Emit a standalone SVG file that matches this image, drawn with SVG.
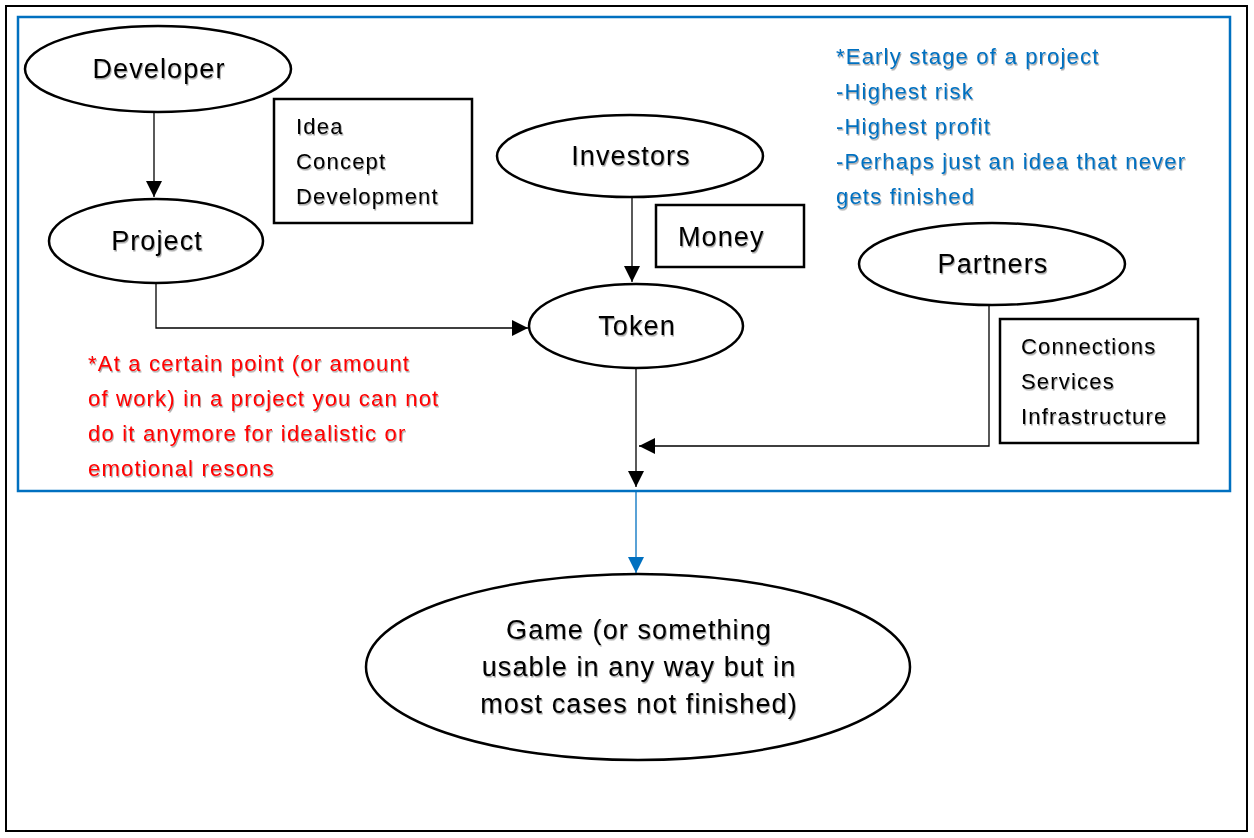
<svg xmlns="http://www.w3.org/2000/svg" width="1254" height="838" viewBox="0 0 1254 838">
<defs>
<filter id="sh" x="-5%" y="-20%" width="110%" height="140%">
<feDropShadow dx="1" dy="1.5" stdDeviation="0.6" flood-color="#000" flood-opacity="0.35"/>
</filter>
<marker id="ah" viewBox="0 0 10 10" refX="10" refY="5" markerWidth="16" markerHeight="16" markerUnits="userSpaceOnUse" orient="auto">
<path d="M0,0 L10,5 L0,10 Z" fill="#000"/>
</marker>
<marker id="ahb" viewBox="0 0 10 10" refX="10" refY="5" markerWidth="16" markerHeight="16" markerUnits="userSpaceOnUse" orient="auto">
<path d="M0,0 L10,5 L0,10 Z" fill="#0070C0"/>
</marker>
</defs>
<style>
text{font-family:"Liberation Sans",Arial,sans-serif;filter:url(#sh)}
.n{fill:#fff;stroke:#000;stroke-width:2.5}
.b{fill:#fff;stroke:#000;stroke-width:2.5}
.big{font-size:27px;fill:#000;text-anchor:middle;letter-spacing:1.1px}
.sm{font-size:22px;fill:#000;letter-spacing:1.2px}
.blue{font-size:22px;fill:#0070C0;letter-spacing:1.2px}
.red{font-size:22px;fill:#FF0000;letter-spacing:1.2px}
.c{fill:none;stroke:#000;stroke-width:1.3}
</style>
<rect x="6" y="6" width="1241" height="825" fill="#fff" stroke="#000" stroke-width="2"/>
<rect x="18" y="17" width="1212" height="474" fill="none" stroke="#0070C0" stroke-width="2.5"/>
<g id="connectors">
<line class="c" x1="154" y1="113" x2="154" y2="197" marker-end="url(#ah)"/>
<line class="c" x1="632" y1="198" x2="632" y2="282" marker-end="url(#ah)"/>
<polyline class="c" points="156,284 156,328 528,328" marker-end="url(#ah)"/>
<polyline class="c" points="989,306 989,446 639,446" marker-end="url(#ah)"/>
<line class="c" x1="636" y1="369" x2="636" y2="487" marker-end="url(#ah)"/>
<line x1="636" y1="491" x2="636" y2="573" stroke="#0070C0" stroke-width="1.3" marker-end="url(#ahb)"/>
</g>
<g id="developer"><ellipse class="n" cx="158" cy="69" rx="133" ry="43"/><text class="big" x="159" y="78">Developer</text></g>
<g id="project"><ellipse class="n" cx="156" cy="241" rx="107" ry="42"/><text class="big" x="157" y="250">Project</text></g>
<g id="investors"><ellipse class="n" cx="630" cy="156" rx="133" ry="41"/><text class="big" x="631" y="165">Investors</text></g>
<g id="token"><ellipse class="n" cx="636" cy="326" rx="107" ry="42"/><text class="big" x="637" y="335">Token</text></g>
<g id="partners"><ellipse class="n" cx="992" cy="264" rx="133" ry="41"/><text class="big" x="993" y="273">Partners</text></g>
<g id="game"><ellipse class="n" cx="638" cy="667" rx="272" ry="93"/>
<text class="big" x="639" y="639">Game (or something</text>
<text class="big" x="639" y="676">usable in any way but in</text>
<text class="big" x="639" y="713">most cases not finished)</text></g>
<g id="idea-box"><rect class="b" x="274" y="99" width="198" height="124"/>
<text class="sm" x="296" y="134">Idea</text>
<text class="sm" x="296" y="169">Concept</text>
<text class="sm" x="296" y="204">Development</text></g>
<g id="money-box"><rect class="b" x="656" y="205" width="148" height="62"/>
<text x="678" y="246" style="font-size:27px;fill:#000;letter-spacing:1.1px">Money</text></g>
<g id="connections-box"><rect class="b" x="1000" y="319" width="198" height="124"/>
<text class="sm" x="1021" y="354">Connections</text>
<text class="sm" x="1021" y="389">Services</text>
<text class="sm" x="1021" y="424">Infrastructure</text></g>
<g id="early-note">
<text class="blue" x="836" y="64">*Early stage of a project</text>
<text class="blue" x="836" y="99">-Highest risk</text>
<text class="blue" x="836" y="134">-Highest profit</text>
<text class="blue" x="836" y="169">-Perhaps just an idea that never</text>
<text class="blue" x="836" y="204">gets finished</text>
</g>
<g id="point-note">
<text class="red" x="88" y="371">*At a certain point (or amount</text>
<text class="red" x="88" y="406">of work) in a project you can not</text>
<text class="red" x="88" y="441">do it anymore for idealistic or</text>
<text class="red" x="88" y="476">emotional resons</text>
</g>
</svg>
